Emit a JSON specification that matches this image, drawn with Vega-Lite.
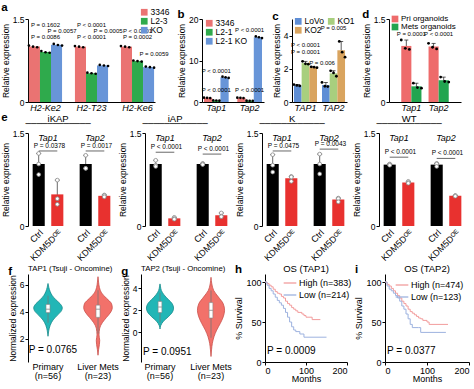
{
"$schema":"https://vega.github.io/schema/vega-lite/v6.json",
"background":"white",
"padding":{"left":1,"top":1,"right":1,"bottom":0},
"config":{
 "font":"Liberation Sans",
 "view":{"stroke":null},
 "axis":{"grid":false,"domainColor":"#000","tickColor":"#000","labelColor":"#000","titleColor":"#000","labelFontSize":8.5,"titleFontSize":8.5,"titleFontWeight":"normal","tickSize":3,"labelPadding":1,"titlePadding":2},
 "legend":{"labelFontSize":8.5,"labelColor":"#000","symbolType":"square","symbolSize":45,"symbolStrokeWidth":0,"rowPadding":0,"padding":0,"labelOffset":2,"titlePadding":0},
 "title":{"fontSize":12,"fontWeight":"bold","anchor":"start","color":"#000","subtitleColor":"#000","subtitleFontSize":9,"subtitleFont":"Liberation Sans","offset":1,"frame":"bounds"},
 "header":{"labelFontSize":9,"labelColor":"#000"}
},
"datasets":{
 "a":[
  {"gene":"H2-Ke2","grp":"3346","s":"1","v":1.02},{"gene":"H2-Ke2","grp":"3346","s":"2","v":1.0},{"gene":"H2-Ke2","grp":"3346","s":"3","v":0.99},
  {"gene":"H2-Ke2","grp":"L2-3","s":"4","v":0.92},{"gene":"H2-Ke2","grp":"L2-3","s":"5","v":0.9},{"gene":"H2-Ke2","grp":"L2-3","s":"6","v":0.89},
  {"gene":"H2-Ke2","grp":"KO","s":"7","v":1.05},{"gene":"H2-Ke2","grp":"KO","s":"8","v":1.03},{"gene":"H2-Ke2","grp":"KO","s":"9","v":1.02},
  {"gene":"H2-T23","grp":"3346","s":"1","v":1.01},{"gene":"H2-T23","grp":"3346","s":"2","v":1.0},{"gene":"H2-T23","grp":"3346","s":"3","v":0.99},
  {"gene":"H2-T23","grp":"L2-3","s":"4","v":0.53},{"gene":"H2-T23","grp":"L2-3","s":"5","v":0.52},{"gene":"H2-T23","grp":"L2-3","s":"6","v":0.51},
  {"gene":"H2-T23","grp":"KO","s":"7","v":0.67},{"gene":"H2-T23","grp":"KO","s":"8","v":0.66},{"gene":"H2-T23","grp":"KO","s":"9","v":0.65},
  {"gene":"H2-Ke6","grp":"3346","s":"1","v":1.01},{"gene":"H2-Ke6","grp":"3346","s":"2","v":1.0},{"gene":"H2-Ke6","grp":"3346","s":"3","v":0.99},
  {"gene":"H2-Ke6","grp":"L2-3","s":"4","v":0.75},{"gene":"H2-Ke6","grp":"L2-3","s":"5","v":0.74},{"gene":"H2-Ke6","grp":"L2-3","s":"6","v":0.73},
  {"gene":"H2-Ke6","grp":"KO","s":"7","v":0.64},{"gene":"H2-Ke6","grp":"KO","s":"8","v":0.63},{"gene":"H2-Ke6","grp":"KO","s":"9","v":0.62}
 ],
 "a_p":[
  {"gene":"H2-Ke2","grp":"L2-3","label":"P = 0.1602","v":1.33},
  {"gene":"H2-Ke2","grp":"KO","label":"P = 0.0057","v":1.23},
  {"gene":"H2-Ke2","grp":"L2-3","label":"P = 0.0086","v":1.12},
  {"gene":"H2-T23","grp":"L2-3","label":"P < 0.0001","v":1.33},
  {"gene":"H2-T23","grp":"KO","label":"P = 0.0005","v":1.23},
  {"gene":"H2-T23","grp":"L2-3","label":"P < 0.0001","v":1.12},
  {"gene":"H2-Ke6","grp":"L2-3","label":"P < 0.0001","v":1.23},
  {"gene":"H2-Ke6","grp":"L2-3","label":"P = 0.0002","v":1.12},
  {"gene":"H2-Ke6","grp":"KO","label":"P = 0.0059","v":0.82}
 ],
 "b":[
  {"gene":"Tap1","grp":"3346","s":"1","v":1.05},{"gene":"Tap1","grp":"3346","s":"2","v":1.0},{"gene":"Tap1","grp":"3346","s":"3","v":0.95},
  {"gene":"Tap1","grp":"L2-1","s":"4","v":0.38},{"gene":"Tap1","grp":"L2-1","s":"5","v":0.35},{"gene":"Tap1","grp":"L2-1","s":"6","v":0.33},
  {"gene":"Tap1","grp":"L2-1 KO","s":"7","v":6.1},{"gene":"Tap1","grp":"L2-1 KO","s":"8","v":5.95},{"gene":"Tap1","grp":"L2-1 KO","s":"9","v":5.8},
  {"gene":"Tap2","grp":"3346","s":"1","v":1.05},{"gene":"Tap2","grp":"3346","s":"2","v":1.0},{"gene":"Tap2","grp":"3346","s":"3","v":0.95},
  {"gene":"Tap2","grp":"L2-1","s":"4","v":0.33},{"gene":"Tap2","grp":"L2-1","s":"5","v":0.3},{"gene":"Tap2","grp":"L2-1","s":"6","v":0.28},
  {"gene":"Tap2","grp":"L2-1 KO","s":"7","v":15.8},{"gene":"Tap2","grp":"L2-1 KO","s":"8","v":15.6},{"gene":"Tap2","grp":"L2-1 KO","s":"9","v":15.4}
 ],
 "b_p":[
  {"gene":"Tap1","label":"P < 0.0001","v":2.1},
  {"gene":"Tap1","label":"P < 0.0001","v":6.8},
  {"gene":"Tap2","label":"P < 0.0001","v":2.1},
  {"gene":"Tap2","label":"P < 0.0001","v":16.6}
 ],
 "c":[
  {"gene":"TAP1","grp":"LoVo","s":"1","v":1.05},{"gene":"TAP1","grp":"LoVo","s":"2","v":1.0},{"gene":"TAP1","grp":"LoVo","s":"3","v":0.97},
  {"gene":"TAP1","grp":"KO1","s":"4","v":2.45},{"gene":"TAP1","grp":"KO1","s":"5","v":2.3},{"gene":"TAP1","grp":"KO1","s":"6","v":2.28},
  {"gene":"TAP1","grp":"KO2","s":"7","v":2.12},{"gene":"TAP1","grp":"KO2","s":"8","v":2.1},{"gene":"TAP1","grp":"KO2","s":"9","v":2.07},
  {"gene":"TAP2","grp":"LoVo","s":"1","v":1.18},{"gene":"TAP2","grp":"LoVo","s":"2","v":0.95},{"gene":"TAP2","grp":"LoVo","s":"3","v":0.93},
  {"gene":"TAP2","grp":"KO1","s":"4","v":1.88},{"gene":"TAP2","grp":"KO1","s":"5","v":1.75},{"gene":"TAP2","grp":"KO1","s":"6","v":1.55},
  {"gene":"TAP2","grp":"KO2","s":"7","v":3.65},{"gene":"TAP2","grp":"KO2","s":"8","v":3.0},{"gene":"TAP2","grp":"KO2","s":"9","v":2.7}
 ],
 "c_p":[
  {"gene":"TAP1","grp":"KO1","label":"P < 0.0001","v":3.25},
  {"gene":"TAP1","grp":"KO1","label":"P = 0.0001","v":2.85},
  {"gene":"TAP2","grp":"LoVo","label":"P = 0.006","v":2.15},
  {"gene":"TAP2","grp":"KO1","label":"P = 0.005","v":4.25}
 ],
 "d":[
  {"gene":"Tap1","grp":"Pri organoids","s":"1","v":1.12},{"gene":"Tap1","grp":"Pri organoids","s":"2","v":0.97},{"gene":"Tap1","grp":"Pri organoids","s":"3","v":0.95},
  {"gene":"Tap1","grp":"Mets organoids","s":"4","v":0.34},{"gene":"Tap1","grp":"Mets organoids","s":"5","v":0.26},{"gene":"Tap1","grp":"Mets organoids","s":"6","v":0.25},
  {"gene":"Tap2","grp":"Pri organoids","s":"1","v":1.06},{"gene":"Tap2","grp":"Pri organoids","s":"2","v":0.99},{"gene":"Tap2","grp":"Pri organoids","s":"3","v":0.96},
  {"gene":"Tap2","grp":"Mets organoids","s":"4","v":0.45},{"gene":"Tap2","grp":"Mets organoids","s":"5","v":0.37},{"gene":"Tap2","grp":"Mets organoids","s":"6","v":0.36}
 ],
 "d_p":[
  {"gene":"Tap1","label":"P = 0.0001","v":1.17},
  {"gene":"Tap2","label":"P < 0.0001","v":1.17}
 ],
 "e":[
  {"panel":"iKAP","gene":"Tap1","cond":"Ctrl","kind":"pt","v":1.17},{"panel":"iKAP","gene":"Tap1","cond":"Ctrl","kind":"pt","v":1.0},{"panel":"iKAP","gene":"Tap1","cond":"Ctrl","kind":"pt","v":0.83},
  {"panel":"iKAP","gene":"Tap1","cond":"KDM5D\u1d3c\u1d31","kind":"pt","v":0.74},{"panel":"iKAP","gene":"Tap1","cond":"KDM5D\u1d3c\u1d31","kind":"pt","v":0.44},{"panel":"iKAP","gene":"Tap1","cond":"KDM5D\u1d3c\u1d31","kind":"pt","v":0.35},
  {"panel":"iKAP","gene":"Tap2","cond":"Ctrl","kind":"pt","v":1.14},{"panel":"iKAP","gene":"Tap2","cond":"Ctrl","kind":"pt","v":0.93},{"panel":"iKAP","gene":"Tap2","cond":"Ctrl","kind":"pt","v":0.93},
  {"panel":"iKAP","gene":"Tap2","cond":"KDM5D\u1d3c\u1d31","kind":"pt","v":0.5},{"panel":"iKAP","gene":"Tap2","cond":"KDM5D\u1d3c\u1d31","kind":"pt","v":0.49},{"panel":"iKAP","gene":"Tap2","cond":"KDM5D\u1d3c\u1d31","kind":"pt","v":0.47},
  {"panel":"iAP","gene":"Tap1","cond":"Ctrl","kind":"pt","v":1.06},{"panel":"iAP","gene":"Tap1","cond":"Ctrl","kind":"pt","v":0.98},{"panel":"iAP","gene":"Tap1","cond":"Ctrl","kind":"pt","v":0.96},
  {"panel":"iAP","gene":"Tap1","cond":"KDM5D\u1d3c\u1d31","kind":"pt","v":0.14},{"panel":"iAP","gene":"Tap1","cond":"KDM5D\u1d3c\u1d31","kind":"pt","v":0.12},{"panel":"iAP","gene":"Tap1","cond":"KDM5D\u1d3c\u1d31","kind":"pt","v":0.11},
  {"panel":"iAP","gene":"Tap2","cond":"Ctrl","kind":"pt","v":1.01},{"panel":"iAP","gene":"Tap2","cond":"Ctrl","kind":"pt","v":1.0},{"panel":"iAP","gene":"Tap2","cond":"Ctrl","kind":"pt","v":0.99},
  {"panel":"iAP","gene":"Tap2","cond":"KDM5D\u1d3c\u1d31","kind":"pt","v":0.21},{"panel":"iAP","gene":"Tap2","cond":"KDM5D\u1d3c\u1d31","kind":"pt","v":0.16},{"panel":"iAP","gene":"Tap2","cond":"KDM5D\u1d3c\u1d31","kind":"pt","v":0.15},
  {"panel":"K","gene":"Tap1","cond":"Ctrl","kind":"pt","v":1.15},{"panel":"K","gene":"Tap1","cond":"Ctrl","kind":"pt","v":0.98},{"panel":"K","gene":"Tap1","cond":"Ctrl","kind":"pt","v":0.87},
  {"panel":"K","gene":"Tap1","cond":"KDM5D\u1d3c\u1d31","kind":"pt","v":0.8},{"panel":"K","gene":"Tap1","cond":"KDM5D\u1d3c\u1d31","kind":"pt","v":0.79},{"panel":"K","gene":"Tap1","cond":"KDM5D\u1d3c\u1d31","kind":"pt","v":0.72},
  {"panel":"K","gene":"Tap2","cond":"Ctrl","kind":"pt","v":1.16},{"panel":"K","gene":"Tap2","cond":"Ctrl","kind":"pt","v":1.0},{"panel":"K","gene":"Tap2","cond":"Ctrl","kind":"pt","v":0.84},
  {"panel":"K","gene":"Tap2","cond":"KDM5D\u1d3c\u1d31","kind":"pt","v":0.45},{"panel":"K","gene":"Tap2","cond":"KDM5D\u1d3c\u1d31","kind":"pt","v":0.44},{"panel":"K","gene":"Tap2","cond":"KDM5D\u1d3c\u1d31","kind":"pt","v":0.39},
  {"panel":"WT","gene":"Tap1","cond":"Ctrl","kind":"pt","v":1.0},{"panel":"WT","gene":"Tap1","cond":"Ctrl","kind":"pt","v":0.99},{"panel":"WT","gene":"Tap1","cond":"Ctrl","kind":"pt","v":0.98},
  {"panel":"WT","gene":"Tap1","cond":"KDM5D\u1d3c\u1d31","kind":"pt","v":0.72},{"panel":"WT","gene":"Tap1","cond":"KDM5D\u1d3c\u1d31","kind":"pt","v":0.7},{"panel":"WT","gene":"Tap1","cond":"KDM5D\u1d3c\u1d31","kind":"pt","v":0.69},
  {"panel":"WT","gene":"Tap2","cond":"Ctrl","kind":"pt","v":1.01},{"panel":"WT","gene":"Tap2","cond":"Ctrl","kind":"pt","v":1.0},{"panel":"WT","gene":"Tap2","cond":"Ctrl","kind":"pt","v":0.96},
  {"panel":"WT","gene":"Tap2","cond":"KDM5D\u1d3c\u1d31","kind":"pt","v":0.49},{"panel":"WT","gene":"Tap2","cond":"KDM5D\u1d3c\u1d31","kind":"pt","v":0.49},{"panel":"WT","gene":"Tap2","cond":"KDM5D\u1d3c\u1d31","kind":"pt","v":0.48},
  {"panel":"iKAP","gene":"Tap1","cond":"Ctrl","cond2":"KDM5D\u1d3c\u1d31","kind":"p","label":"P = 0.0378","v":1.25,"lv":1.21},
  {"panel":"iKAP","gene":"Tap2","cond":"Ctrl","cond2":"KDM5D\u1d3c\u1d31","kind":"p","label":"P = 0.0017","v":1.25,"lv":1.21},
  {"panel":"iAP","gene":"Tap1","cond":"Ctrl","cond2":"KDM5D\u1d3c\u1d31","kind":"p","label":"P < 0.0001","v":1.23,"lv":1.19},
  {"panel":"iAP","gene":"Tap2","cond":"Ctrl","cond2":"KDM5D\u1d3c\u1d31","kind":"p","label":"P < 0.0001","v":1.2,"lv":1.16},
  {"panel":"K","gene":"Tap1","cond":"Ctrl","cond2":"KDM5D\u1d3c\u1d31","kind":"p","label":"P = 0.0475","v":1.25,"lv":1.21},
  {"panel":"K","gene":"Tap2","cond":"Ctrl","cond2":"KDM5D\u1d3c\u1d31","kind":"p","label":"P = 0.0043","v":1.28,"lv":1.24},
  {"panel":"WT","gene":"Tap1","cond":"Ctrl","cond2":"KDM5D\u1d3c\u1d31","kind":"p","label":"P < 0.0001","v":1.15,"lv":1.11},
  {"panel":"WT","gene":"Tap2","cond":"Ctrl","cond2":"KDM5D\u1d3c\u1d31","kind":"p","label":"P < 0.0001","v":1.13,"lv":1.09}
 ],
 "f":[
  {"grp":"Primary|(n=56)","kind":"vio","v":2.2,"lo":0,"hi":0},{"grp":"Primary|(n=56)","kind":"vio","v":2.6,"lo":-0.05,"hi":0.05},{"grp":"Primary|(n=56)","kind":"vio","v":3.0,"lo":-0.15,"hi":0.15},{"grp":"Primary|(n=56)","kind":"vio","v":3.4,"lo":-0.35,"hi":0.35},{"grp":"Primary|(n=56)","kind":"vio","v":3.8,"lo":-0.7,"hi":0.7},{"grp":"Primary|(n=56)","kind":"vio","v":4.1,"lo":-0.95,"hi":0.95},{"grp":"Primary|(n=56)","kind":"vio","v":4.3,"lo":-1.0,"hi":1.0},{"grp":"Primary|(n=56)","kind":"vio","v":4.6,"lo":-0.85,"hi":0.85},{"grp":"Primary|(n=56)","kind":"vio","v":4.9,"lo":-0.55,"hi":0.55},{"grp":"Primary|(n=56)","kind":"vio","v":5.2,"lo":-0.3,"hi":0.3},{"grp":"Primary|(n=56)","kind":"vio","v":5.5,"lo":-0.15,"hi":0.15},{"grp":"Primary|(n=56)","kind":"vio","v":5.8,"lo":-0.06,"hi":0.06},{"grp":"Primary|(n=56)","kind":"vio","v":6.1,"lo":0,"hi":0},
  {"grp":"Liver Mets|(n=23)","kind":"vio","v":0.8,"lo":0,"hi":0},{"grp":"Liver Mets|(n=23)","kind":"vio","v":1.2,"lo":-0.04,"hi":0.04},{"grp":"Liver Mets|(n=23)","kind":"vio","v":1.6,"lo":-0.1,"hi":0.1},{"grp":"Liver Mets|(n=23)","kind":"vio","v":1.9,"lo":-0.12,"hi":0.12},{"grp":"Liver Mets|(n=23)","kind":"vio","v":2.3,"lo":-0.07,"hi":0.07},{"grp":"Liver Mets|(n=23)","kind":"vio","v":2.8,"lo":-0.12,"hi":0.12},{"grp":"Liver Mets|(n=23)","kind":"vio","v":3.2,"lo":-0.3,"hi":0.3},{"grp":"Liver Mets|(n=23)","kind":"vio","v":3.6,"lo":-0.6,"hi":0.6},{"grp":"Liver Mets|(n=23)","kind":"vio","v":4.0,"lo":-0.9,"hi":0.9},{"grp":"Liver Mets|(n=23)","kind":"vio","v":4.3,"lo":-1.0,"hi":1.0},{"grp":"Liver Mets|(n=23)","kind":"vio","v":4.6,"lo":-0.95,"hi":0.95},{"grp":"Liver Mets|(n=23)","kind":"vio","v":5.0,"lo":-0.6,"hi":0.6},{"grp":"Liver Mets|(n=23)","kind":"vio","v":5.4,"lo":-0.25,"hi":0.25},{"grp":"Liver Mets|(n=23)","kind":"vio","v":5.8,"lo":-0.1,"hi":0.1},{"grp":"Liver Mets|(n=23)","kind":"vio","v":6.2,"lo":-0.04,"hi":0.04},{"grp":"Liver Mets|(n=23)","kind":"vio","v":6.6,"lo":0,"hi":0},
  {"grp":"Primary|(n=56)","kind":"box","q1":3.95,"med":4.2,"q3":4.55,"wlo":3.2,"whi":5.2},
  {"grp":"Liver Mets|(n=23)","kind":"box","q1":3.6,"med":4.2,"q3":4.5,"wlo":2.4,"whi":5.6},
  {"grp":"Primary|(n=56)","kind":"p","label":"P = 0.0765","v":0.8}
 ],
 "g":[
  {"grp":"Primary|(n=56)","kind":"vio","v":0.3,"lo":0,"hi":0},{"grp":"Primary|(n=56)","kind":"vio","v":0.6,"lo":-0.05,"hi":0.05},{"grp":"Primary|(n=56)","kind":"vio","v":1.0,"lo":-0.25,"hi":0.25},{"grp":"Primary|(n=56)","kind":"vio","v":1.4,"lo":-0.6,"hi":0.6},{"grp":"Primary|(n=56)","kind":"vio","v":1.8,"lo":-0.9,"hi":0.9},{"grp":"Primary|(n=56)","kind":"vio","v":2.2,"lo":-1.0,"hi":1.0},{"grp":"Primary|(n=56)","kind":"vio","v":2.6,"lo":-0.9,"hi":0.9},{"grp":"Primary|(n=56)","kind":"vio","v":3.0,"lo":-0.6,"hi":0.6},{"grp":"Primary|(n=56)","kind":"vio","v":3.4,"lo":-0.3,"hi":0.3},{"grp":"Primary|(n=56)","kind":"vio","v":3.8,"lo":-0.1,"hi":0.1},{"grp":"Primary|(n=56)","kind":"vio","v":4.2,"lo":-0.03,"hi":0.03},{"grp":"Primary|(n=56)","kind":"vio","v":4.4,"lo":0,"hi":0},
  {"grp":"Liver Mets|(n=23)","kind":"vio","v":-2.2,"lo":0,"hi":0},{"grp":"Liver Mets|(n=23)","kind":"vio","v":-1.6,"lo":-0.04,"hi":0.04},{"grp":"Liver Mets|(n=23)","kind":"vio","v":-1.0,"lo":-0.1,"hi":0.1},{"grp":"Liver Mets|(n=23)","kind":"vio","v":-0.4,"lo":-0.22,"hi":0.22},{"grp":"Liver Mets|(n=23)","kind":"vio","v":0.2,"lo":-0.42,"hi":0.42},{"grp":"Liver Mets|(n=23)","kind":"vio","v":0.8,"lo":-0.68,"hi":0.68},{"grp":"Liver Mets|(n=23)","kind":"vio","v":1.4,"lo":-0.9,"hi":0.9},{"grp":"Liver Mets|(n=23)","kind":"vio","v":2.0,"lo":-1.0,"hi":1.0},{"grp":"Liver Mets|(n=23)","kind":"vio","v":2.6,"lo":-0.9,"hi":0.9},{"grp":"Liver Mets|(n=23)","kind":"vio","v":3.2,"lo":-0.55,"hi":0.55},{"grp":"Liver Mets|(n=23)","kind":"vio","v":3.8,"lo":-0.2,"hi":0.2},{"grp":"Liver Mets|(n=23)","kind":"vio","v":4.4,"lo":-0.06,"hi":0.06},{"grp":"Liver Mets|(n=23)","kind":"vio","v":5.0,"lo":0,"hi":0},
  {"grp":"Primary|(n=56)","kind":"box","q1":1.8,"med":2.3,"q3":2.8,"wlo":0.9,"whi":3.6},
  {"grp":"Liver Mets|(n=23)","kind":"box","q1":1.3,"med":2.0,"q3":2.7,"wlo":-0.5,"whi":3.8},
  {"grp":"Primary|(n=56)","kind":"p","label":"P = 0.0951","v":-2.2}
 ],
 "h":[
  {"grp":"High (n=383)","m":0,"s":100},{"grp":"High (n=383)","m":5,"s":98},{"grp":"High (n=383)","m":10,"s":96},{"grp":"High (n=383)","m":15,"s":94},{"grp":"High (n=383)","m":20,"s":91},{"grp":"High (n=383)","m":25,"s":88},{"grp":"High (n=383)","m":30,"s":86},{"grp":"High (n=383)","m":35,"s":85},{"grp":"High (n=383)","m":40,"s":82},{"grp":"High (n=383)","m":45,"s":80},{"grp":"High (n=383)","m":50,"s":76},{"grp":"High (n=383)","m":55,"s":73},{"grp":"High (n=383)","m":60,"s":71},{"grp":"High (n=383)","m":65,"s":68},{"grp":"High (n=383)","m":70,"s":66},{"grp":"High (n=383)","m":75,"s":64},{"grp":"High (n=383)","m":80,"s":62},{"grp":"High (n=383)","m":90,"s":60},{"grp":"High (n=383)","m":95,"s":58},{"grp":"High (n=383)","m":100,"s":56},{"grp":"High (n=383)","m":115,"s":53},{"grp":"High (n=383)","m":135,"s":53},
  {"grp":"Low (n=214)","m":0,"s":100},{"grp":"Low (n=214)","m":5,"s":96},{"grp":"Low (n=214)","m":10,"s":92},{"grp":"Low (n=214)","m":15,"s":89},{"grp":"Low (n=214)","m":20,"s":85},{"grp":"Low (n=214)","m":25,"s":81},{"grp":"Low (n=214)","m":30,"s":77},{"grp":"Low (n=214)","m":35,"s":74},{"grp":"Low (n=214)","m":40,"s":71},{"grp":"Low (n=214)","m":45,"s":67},{"grp":"Low (n=214)","m":50,"s":62},{"grp":"Low (n=214)","m":55,"s":56},{"grp":"Low (n=214)","m":60,"s":50},{"grp":"Low (n=214)","m":65,"s":44},{"grp":"Low (n=214)","m":70,"s":40},{"grp":"Low (n=214)","m":75,"s":38},{"grp":"Low (n=214)","m":85,"s":35},{"grp":"Low (n=214)","m":95,"s":31},{"grp":"Low (n=214)","m":150,"s":31}
 ],
 "h_p":[{"m":5,"s":8,"label":"P = 0.0009"}],
 "i":[
  {"grp":"High (n=474)","m":0,"s":100},{"grp":"High (n=474)","m":5,"s":97},{"grp":"High (n=474)","m":10,"s":95},{"grp":"High (n=474)","m":15,"s":92},{"grp":"High (n=474)","m":20,"s":89},{"grp":"High (n=474)","m":25,"s":86},{"grp":"High (n=474)","m":30,"s":83},{"grp":"High (n=474)","m":35,"s":80},{"grp":"High (n=474)","m":40,"s":76},{"grp":"High (n=474)","m":45,"s":73},{"grp":"High (n=474)","m":50,"s":70},{"grp":"High (n=474)","m":55,"s":66},{"grp":"High (n=474)","m":60,"s":63},{"grp":"High (n=474)","m":65,"s":61},{"grp":"High (n=474)","m":70,"s":59},{"grp":"High (n=474)","m":75,"s":57},{"grp":"High (n=474)","m":80,"s":55},{"grp":"High (n=474)","m":85,"s":54},{"grp":"High (n=474)","m":90,"s":52},{"grp":"High (n=474)","m":100,"s":50},{"grp":"High (n=474)","m":105,"s":47},{"grp":"High (n=474)","m":150,"s":47},
  {"grp":"Low (n=123)","m":0,"s":100},{"grp":"Low (n=123)","m":5,"s":95},{"grp":"Low (n=123)","m":10,"s":91},{"grp":"Low (n=123)","m":15,"s":89},{"grp":"Low (n=123)","m":20,"s":86},{"grp":"Low (n=123)","m":25,"s":83},{"grp":"Low (n=123)","m":30,"s":80},{"grp":"Low (n=123)","m":35,"s":76},{"grp":"Low (n=123)","m":40,"s":70},{"grp":"Low (n=123)","m":45,"s":66},{"grp":"Low (n=123)","m":50,"s":60},{"grp":"Low (n=123)","m":55,"s":54},{"grp":"Low (n=123)","m":60,"s":47},{"grp":"Low (n=123)","m":65,"s":43},{"grp":"Low (n=123)","m":80,"s":43},{"grp":"Low (n=123)","m":85,"s":37},{"grp":"Low (n=123)","m":145,"s":37}
 ],
 "i_p":[{"m":5,"s":8,"label":"P = 0.0377"}]
},
"spacing":0,
"resolve":{"scale":{"color":"independent","fill":"independent","stroke":"independent"},"legend":{"color":"independent","fill":"independent","stroke":"independent"}},
"vconcat":[
 {"hconcat":[
  {"width":127,"height":83,"title":{"text":"a","offset":-5,"fontSize":11.5},"data":{"name":"a"},
   "layer":[
    {"mark":{"type":"bar"},
     "encoding":{
      "x":{"field":"gene","type":"nominal","scale":{"domain":["H2-Ke2","H2-T23","H2-Ke6"],"paddingInner":0.28,"paddingOuter":0.02},"axis":{"title":null,"labelAngle":0,"labelFontStyle":"italic","labelFontSize":9,"ticks":false,"labelPadding":1}},
      "xOffset":{"field":"grp","type":"nominal","scale":{"domain":["3346","L2-3","KO"],"paddingInner":0,"paddingOuter":0}},
      "y":{"aggregate":"mean","field":"v","type":"quantitative","title":"Relative expression","scale":{"domain":[0,1.5],"nice":false},"axis":{"values":[0,0.5,1,1.5],"labelExpr":"datum.value == 0 ? '0' : format(datum.value, '.1f')"}},
      "color":{"field":"grp","type":"nominal","scale":{"domain":["3346","L2-3","KO"],"range":["#EA7372","#2FAA4C","#6895D8"]},"legend":{"title":null,"orient":"none","legendX":112,"legendY":-11}}
     }},
    {"mark":{"type":"point","filled":true,"color":"#000","size":7,"opacity":1},
     "encoding":{
      "x":{"field":"gene","type":"nominal","scale":{"domain":["H2-Ke2","H2-T23","H2-Ke6"],"paddingInner":0.28,"paddingOuter":0.02}},
      "xOffset":{"field":"s","type":"nominal","scale":{"domain":["1","2","3","4","5","6","7","8","9"],"paddingInner":0,"paddingOuter":0}},
      "y":{"field":"v","type":"quantitative","title":"Relative expression","scale":{"domain":[0,1.5],"nice":false}}
     }},
    {"data":{"name":"a_p"},"mark":{"type":"text","fontSize":6,"baseline":"bottom"},
     "encoding":{
      "x":{"field":"gene","type":"nominal","scale":{"domain":["H2-Ke2","H2-T23","H2-Ke6"],"paddingInner":0.28,"paddingOuter":0.02}},
      "xOffset":{"field":"grp","type":"nominal","scale":{"domain":["3346","L2-3","KO"],"paddingInner":0,"paddingOuter":0}},
      "y":{"field":"v","type":"quantitative","title":"Relative expression","scale":{"domain":[0,1.5],"nice":false}},
      "text":{"field":"label"}
     }}
   ],
   "resolve":{"scale":{"xOffset":"independent"}}
  },
  {"width":62,"height":83,"title":{"text":"b","offset":-5,"fontSize":11.5},"data":{"name":"b"},
   "layer":[
    {"mark":{"type":"bar"},
     "encoding":{
      "x":{"field":"gene","type":"nominal","scale":{"domain":["Tap1","Tap2"],"paddingInner":0.26,"paddingOuter":0.06},"axis":{"title":null,"labelAngle":0,"labelFontStyle":"italic","labelFontSize":9,"ticks":false,"labelPadding":1}},
      "xOffset":{"field":"grp","type":"nominal","scale":{"domain":["3346","L2-1","L2-1 KO"],"paddingInner":0,"paddingOuter":0}},
      "y":{"aggregate":"mean","field":"v","type":"quantitative","title":"Relative expression","scale":{"domain":[0,20],"nice":false},"axis":{"values":[0,5,10,15,20]}},
      "color":{"field":"grp","type":"nominal","scale":{"domain":["3346","L2-1","L2-1 KO"],"range":["#EA7372","#2FAA4C","#6895D8"]},"legend":{"title":null,"orient":"none","legendX":3,"legendY":0}}
     }},
    {"mark":{"type":"point","filled":true,"color":"#000","size":7,"opacity":1},
     "encoding":{
      "x":{"field":"gene","type":"nominal","scale":{"domain":["Tap1","Tap2"],"paddingInner":0.26,"paddingOuter":0.06}},
      "xOffset":{"field":"s","type":"nominal","scale":{"domain":["1","2","3","4","5","6","7","8","9"],"paddingInner":0,"paddingOuter":0}},
      "y":{"field":"v","type":"quantitative","title":"Relative expression","scale":{"domain":[0,20],"nice":false}}
     }},
    {"data":{"name":"b_p"},"mark":{"type":"text","fontSize":6,"baseline":"bottom"},
     "encoding":{
      "x":{"field":"gene","type":"nominal","scale":{"domain":["Tap1","Tap2"],"paddingInner":0.26,"paddingOuter":0.06}},
      "y":{"field":"v","type":"quantitative","title":"Relative expression","scale":{"domain":[0,20],"nice":false}},
      "text":{"field":"label"}
     }}
   ],
   "resolve":{"scale":{"xOffset":"independent"}}
  },
  {"width":55,"height":83,"title":{"text":"c","offset":-5,"fontSize":11.5},"data":{"name":"c"},
   "layer":[
    {"mark":{"type":"rule","color":"#333","strokeWidth":0.8},
     "encoding":{
      "x":{"field":"gene","type":"nominal","scale":{"domain":["TAP1","TAP2"],"paddingInner":0.18,"paddingOuter":0.07},"axis":{"title":null,"labelAngle":0,"labelFontStyle":"italic","labelFontSize":9,"ticks":false,"labelPadding":1}},
      "xOffset":{"field":"grp","type":"nominal","scale":{"domain":["LoVo","KO1","KO2"],"paddingInner":0,"paddingOuter":0}},
      "y":{"aggregate":"min","field":"v","type":"quantitative","title":"Relative expression","scale":{"domain":[0,5],"nice":false},"axis":{"values":[0,1,2,3,4,5]}},
      "y2":{"aggregate":"max","field":"v"}
     }},
    {"mark":{"type":"tick","color":"#333","size":4,"thickness":0.8},
     "encoding":{
      "x":{"field":"gene","type":"nominal","scale":{"domain":["TAP1","TAP2"],"paddingInner":0.18,"paddingOuter":0.07}},
      "xOffset":{"field":"grp","type":"nominal","scale":{"domain":["LoVo","KO1","KO2"],"paddingInner":0,"paddingOuter":0}},
      "y":{"aggregate":"max","field":"v","type":"quantitative","title":"Relative expression","scale":{"domain":[0,5],"nice":false}}
     }},
    {"mark":{"type":"bar"},
     "encoding":{
      "x":{"field":"gene","type":"nominal","scale":{"domain":["TAP1","TAP2"],"paddingInner":0.18,"paddingOuter":0.07}},
      "xOffset":{"field":"grp","type":"nominal","scale":{"domain":["LoVo","KO1","KO2"],"paddingInner":0,"paddingOuter":0}},
      "y":{"aggregate":"mean","field":"v","type":"quantitative","title":"Relative expression","scale":{"domain":[0,5],"nice":false}},
      "color":{"field":"grp","type":"nominal","scale":{"domain":["LoVo","KO2","KO1"],"range":["#5F8ED5","#D9A45F","#A8CF7E"]},"legend":{"title":null,"orient":"none","legendX":2,"legendY":-2,"columns":2,"columnPadding":3}}
     }},
    {"mark":{"type":"point","filled":true,"color":"#000","size":8,"opacity":1},
     "encoding":{
      "x":{"field":"gene","type":"nominal","scale":{"domain":["TAP1","TAP2"],"paddingInner":0.18,"paddingOuter":0.07}},
      "xOffset":{"field":"s","type":"nominal","scale":{"domain":["1","2","3","4","5","6","7","8","9"],"paddingInner":0,"paddingOuter":0}},
      "y":{"field":"v","type":"quantitative","title":"Relative expression","scale":{"domain":[0,5],"nice":false}}
     }},
    {"data":{"name":"c_p"},"mark":{"type":"text","fontSize":6,"baseline":"bottom"},
     "encoding":{
      "x":{"field":"gene","type":"nominal","scale":{"domain":["TAP1","TAP2"],"paddingInner":0.18,"paddingOuter":0.07}},
      "xOffset":{"field":"grp","type":"nominal","scale":{"domain":["LoVo","KO1","KO2"],"paddingInner":0,"paddingOuter":0}},
      "y":{"field":"v","type":"quantitative","title":"Relative expression","scale":{"domain":[0,5],"nice":false}},
      "text":{"field":"label"}
     }}
   ],
   "resolve":{"scale":{"xOffset":"independent"}}
  },
  {"width":72,"height":83,"title":{"text":"d","offset":-5,"fontSize":11.5},"data":{"name":"d"},
   "layer":[
    {"mark":{"type":"rule","color":"#333","strokeWidth":0.8},
     "encoding":{
      "x":{"field":"gene","type":"nominal","scale":{"domain":["Tap1","Tap2"],"paddingInner":0.26,"paddingOuter":0.45},"axis":{"title":null,"labelAngle":0,"labelFontStyle":"italic","labelFontSize":9,"ticks":false,"labelPadding":1}},
      "xOffset":{"field":"grp","type":"nominal","scale":{"domain":["Pri organoids","Mets organoids"],"paddingInner":0,"paddingOuter":0}},
      "y":{"aggregate":"min","field":"v","type":"quantitative","title":"Relative expression","scale":{"domain":[0,1.5],"nice":false},"axis":{"values":[0,0.5,1,1.5],"labelExpr":"datum.value == 0 ? '0' : format(datum.value, '.1f')"}},
      "y2":{"aggregate":"max","field":"v"}
     }},
    {"mark":{"type":"tick","color":"#333","size":4,"thickness":0.8},
     "encoding":{
      "x":{"field":"gene","type":"nominal","scale":{"domain":["Tap1","Tap2"],"paddingInner":0.26,"paddingOuter":0.45}},
      "xOffset":{"field":"grp","type":"nominal","scale":{"domain":["Pri organoids","Mets organoids"],"paddingInner":0,"paddingOuter":0}},
      "y":{"aggregate":"max","field":"v","type":"quantitative","title":"Relative expression","scale":{"domain":[0,1.5],"nice":false}}
     }},
    {"mark":{"type":"bar"},
     "encoding":{
      "x":{"field":"gene","type":"nominal","scale":{"domain":["Tap1","Tap2"],"paddingInner":0.26,"paddingOuter":0.45}},
      "xOffset":{"field":"grp","type":"nominal","scale":{"domain":["Pri organoids","Mets organoids"],"paddingInner":0,"paddingOuter":0}},
      "y":{"aggregate":"mean","field":"v","type":"quantitative","title":"Relative expression","scale":{"domain":[0,1.5],"nice":false}},
      "color":{"field":"grp","type":"nominal","scale":{"domain":["Pri organoids","Mets organoids"],"range":["#EE6B6B","#22A550"]},"legend":{"title":null,"orient":"none","legendX":2,"legendY":-4,"labelFontSize":8}}
     }},
    {"mark":{"type":"point","filled":true,"color":"#000","size":8,"opacity":1},
     "encoding":{
      "x":{"field":"gene","type":"nominal","scale":{"domain":["Tap1","Tap2"],"paddingInner":0.26,"paddingOuter":0.45}},
      "xOffset":{"field":"s","type":"nominal","scale":{"domain":["1","2","3","4","5","6"],"paddingInner":0,"paddingOuter":0}},
      "y":{"field":"v","type":"quantitative","title":"Relative expression","scale":{"domain":[0,1.5],"nice":false}}
     }},
    {"data":{"name":"d_p"},"mark":{"type":"text","fontSize":6,"baseline":"bottom"},
     "encoding":{
      "x":{"field":"gene","type":"nominal","scale":{"domain":["Tap1","Tap2"],"paddingInner":0.26,"paddingOuter":0.45}},
      "y":{"field":"v","type":"quantitative","title":"Relative expression","scale":{"domain":[0,1.5],"nice":false}},
      "text":{"field":"label"}
     }}
   ],
   "resolve":{"scale":{"xOffset":"independent"}}
  }
 ],"spacing":7,"resolve":{"scale":{"color":"independent"},"legend":{"color":"independent"}}},
 {"title":{"text":"e","offset":-10,"fontSize":11.5},
  "resolve":{"scale":{"color":"independent"},"legend":{"color":"independent"}},
  "hconcat":[
   {"data":{"name":"e"},"transform":[{"filter":"datum.panel == 'iKAP'"}],
    "title":{"text":"iKAP","subtitle":"────────────","anchor":"middle","fontSize":9.5,"fontWeight":"normal","subtitleFont":"DejaVu Sans","subtitleFontSize":9,"subtitlePadding":-3,"offset":0},
    "facet":{"column":{"field":"gene","type":"nominal","title":null,"header":{"labelFontStyle":"italic","labelFontSize":9,"labelPadding":-10}}},
    "spacing":7,
    "spec":{"width":40,"height":93,
     "encoding":{"x":{"field":"cond","type":"nominal","scale":{"domain":["Ctrl","KDM5D\u1d3c\u1d31"],"paddingInner":0.35,"paddingOuter":0.25},"axis":{"title":null,"labelAngle":-45,"domain":false,"ticks":false,"labelFontSize":9,"labelPadding":2}}},
     "layer":[
      {"transform":[{"filter":"datum.kind == 'pt'"}],"mark":{"type":"rule","color":"#444","strokeWidth":0.8},"encoding":{"y":{"aggregate":"min","field":"v","type":"quantitative","title":"Relative expression","scale":{"domain":[0,1.5],"nice":false},"axis":{"values":[0,0.5,1,1.5],"labelExpr":"datum.value == 0 ? '0' : format(datum.value, '.1f')"}},"y2":{"aggregate":"max","field":"v"}}},
      {"transform":[{"filter":"datum.kind == 'pt'"}],"mark":{"type":"tick","color":"#444","size":5,"thickness":0.8},"encoding":{"y":{"aggregate":"max","field":"v","type":"quantitative","title":"Relative expression","scale":{"domain":[0,1.5],"nice":false}}}},
      {"transform":[{"filter":"datum.kind == 'pt'"}],"mark":{"type":"bar"},"encoding":{"y":{"aggregate":"mean","field":"v","type":"quantitative","title":"Relative expression","scale":{"domain":[0,1.5],"nice":false}},"color":{"field":"cond","type":"nominal","scale":{"domain":["Ctrl","KDM5D\u1d3c\u1d31"],"range":["#000000","#E8312F"]},"legend":null}}},
      {"transform":[{"filter":"datum.kind == 'pt'"}],"mark":{"type":"point","filled":true,"fill":"#fff","stroke":"#888","strokeWidth":0.8,"size":14,"opacity":1},"encoding":{"y":{"field":"v","type":"quantitative","title":"Relative expression","scale":{"domain":[0,1.5],"nice":false}}}},
      {"transform":[{"filter":"datum.kind == 'p'"}],"mark":{"type":"rule","color":"#000","strokeWidth":0.6},"encoding":{"x2":{"field":"cond2"},"y":{"field":"lv","type":"quantitative","title":"Relative expression","scale":{"domain":[0,1.5],"nice":false}}}},
      {"transform":[{"filter":"datum.kind == 'p'"}],"mark":{"type":"text","fontSize":6.5,"align":"left","dx":-5,"baseline":"bottom"},"encoding":{"y":{"field":"v","type":"quantitative","title":"Relative expression","scale":{"domain":[0,1.5],"nice":false}},"text":{"field":"label"}}}
     ]}
   },
   {"data":{"name":"e"},"transform":[{"filter":"datum.panel == 'iAP'"}],
    "title":{"text":"iAP","subtitle":"────────────","anchor":"middle","fontSize":9.5,"fontWeight":"normal","subtitleFont":"DejaVu Sans","subtitleFontSize":9,"subtitlePadding":-3,"offset":0},
    "facet":{"column":{"field":"gene","type":"nominal","title":null,"header":{"labelFontStyle":"italic","labelFontSize":9,"labelPadding":-10}}},
    "spacing":7,
    "spec":{"width":40,"height":93,
     "encoding":{"x":{"field":"cond","type":"nominal","scale":{"domain":["Ctrl","KDM5D\u1d3c\u1d31"],"paddingInner":0.35,"paddingOuter":0.25},"axis":{"title":null,"labelAngle":-45,"domain":false,"ticks":false,"labelFontSize":9,"labelPadding":2}}},
     "layer":[
      {"transform":[{"filter":"datum.kind == 'pt'"}],"mark":{"type":"rule","color":"#444","strokeWidth":0.8},"encoding":{"y":{"aggregate":"min","field":"v","type":"quantitative","title":"Relative expression","scale":{"domain":[0,1.5],"nice":false},"axis":{"values":[0,0.5,1,1.5],"labelExpr":"datum.value == 0 ? '0' : format(datum.value, '.1f')"}},"y2":{"aggregate":"max","field":"v"}}},
      {"transform":[{"filter":"datum.kind == 'pt'"}],"mark":{"type":"tick","color":"#444","size":5,"thickness":0.8},"encoding":{"y":{"aggregate":"max","field":"v","type":"quantitative","title":"Relative expression","scale":{"domain":[0,1.5],"nice":false}}}},
      {"transform":[{"filter":"datum.kind == 'pt'"}],"mark":{"type":"bar"},"encoding":{"y":{"aggregate":"mean","field":"v","type":"quantitative","title":"Relative expression","scale":{"domain":[0,1.5],"nice":false}},"color":{"field":"cond","type":"nominal","scale":{"domain":["Ctrl","KDM5D\u1d3c\u1d31"],"range":["#000000","#E8312F"]},"legend":null}}},
      {"transform":[{"filter":"datum.kind == 'pt'"}],"mark":{"type":"point","filled":true,"fill":"#fff","stroke":"#888","strokeWidth":0.8,"size":14,"opacity":1},"encoding":{"y":{"field":"v","type":"quantitative","title":"Relative expression","scale":{"domain":[0,1.5],"nice":false}}}},
      {"transform":[{"filter":"datum.kind == 'p'"}],"mark":{"type":"rule","color":"#000","strokeWidth":0.6},"encoding":{"x2":{"field":"cond2"},"y":{"field":"lv","type":"quantitative","title":"Relative expression","scale":{"domain":[0,1.5],"nice":false}}}},
      {"transform":[{"filter":"datum.kind == 'p'"}],"mark":{"type":"text","fontSize":6.5,"align":"left","dx":-5,"baseline":"bottom"},"encoding":{"y":{"field":"v","type":"quantitative","title":"Relative expression","scale":{"domain":[0,1.5],"nice":false}},"text":{"field":"label"}}}
     ]}
   },
   {"data":{"name":"e"},"transform":[{"filter":"datum.panel == 'K'"}],
    "title":{"text":"K","subtitle":"────────────","anchor":"middle","fontSize":9.5,"fontWeight":"normal","subtitleFont":"DejaVu Sans","subtitleFontSize":9,"subtitlePadding":-3,"offset":0},
    "facet":{"column":{"field":"gene","type":"nominal","title":null,"header":{"labelFontStyle":"italic","labelFontSize":9,"labelPadding":-10}}},
    "spacing":7,
    "spec":{"width":40,"height":93,
     "encoding":{"x":{"field":"cond","type":"nominal","scale":{"domain":["Ctrl","KDM5D\u1d3c\u1d31"],"paddingInner":0.35,"paddingOuter":0.25},"axis":{"title":null,"labelAngle":-45,"domain":false,"ticks":false,"labelFontSize":9,"labelPadding":2}}},
     "layer":[
      {"transform":[{"filter":"datum.kind == 'pt'"}],"mark":{"type":"rule","color":"#444","strokeWidth":0.8},"encoding":{"y":{"aggregate":"min","field":"v","type":"quantitative","title":"Relative expression","scale":{"domain":[0,1.5],"nice":false},"axis":{"values":[0,0.5,1,1.5],"labelExpr":"datum.value == 0 ? '0' : format(datum.value, '.1f')"}},"y2":{"aggregate":"max","field":"v"}}},
      {"transform":[{"filter":"datum.kind == 'pt'"}],"mark":{"type":"tick","color":"#444","size":5,"thickness":0.8},"encoding":{"y":{"aggregate":"max","field":"v","type":"quantitative","title":"Relative expression","scale":{"domain":[0,1.5],"nice":false}}}},
      {"transform":[{"filter":"datum.kind == 'pt'"}],"mark":{"type":"bar"},"encoding":{"y":{"aggregate":"mean","field":"v","type":"quantitative","title":"Relative expression","scale":{"domain":[0,1.5],"nice":false}},"color":{"field":"cond","type":"nominal","scale":{"domain":["Ctrl","KDM5D\u1d3c\u1d31"],"range":["#000000","#E8312F"]},"legend":null}}},
      {"transform":[{"filter":"datum.kind == 'pt'"}],"mark":{"type":"point","filled":true,"fill":"#fff","stroke":"#888","strokeWidth":0.8,"size":14,"opacity":1},"encoding":{"y":{"field":"v","type":"quantitative","title":"Relative expression","scale":{"domain":[0,1.5],"nice":false}}}},
      {"transform":[{"filter":"datum.kind == 'p'"}],"mark":{"type":"rule","color":"#000","strokeWidth":0.6},"encoding":{"x2":{"field":"cond2"},"y":{"field":"lv","type":"quantitative","title":"Relative expression","scale":{"domain":[0,1.5],"nice":false}}}},
      {"transform":[{"filter":"datum.kind == 'p'"}],"mark":{"type":"text","fontSize":6.5,"align":"left","dx":-5,"baseline":"bottom"},"encoding":{"y":{"field":"v","type":"quantitative","title":"Relative expression","scale":{"domain":[0,1.5],"nice":false}},"text":{"field":"label"}}}
     ]}
   },
   {"data":{"name":"e"},"transform":[{"filter":"datum.panel == 'WT'"}],
    "title":{"text":"WT","subtitle":"────────────","anchor":"middle","fontSize":9.5,"fontWeight":"normal","subtitleFont":"DejaVu Sans","subtitleFontSize":9,"subtitlePadding":-3,"offset":0},
    "facet":{"column":{"field":"gene","type":"nominal","title":null,"header":{"labelFontStyle":"italic","labelFontSize":9,"labelPadding":-10}}},
    "spacing":7,
    "spec":{"width":40,"height":93,
     "encoding":{"x":{"field":"cond","type":"nominal","scale":{"domain":["Ctrl","KDM5D\u1d3c\u1d31"],"paddingInner":0.35,"paddingOuter":0.25},"axis":{"title":null,"labelAngle":-45,"domain":false,"ticks":false,"labelFontSize":9,"labelPadding":2}}},
     "layer":[
      {"transform":[{"filter":"datum.kind == 'pt'"}],"mark":{"type":"rule","color":"#444","strokeWidth":0.8},"encoding":{"y":{"aggregate":"min","field":"v","type":"quantitative","title":"Relative expression","scale":{"domain":[0,1.5],"nice":false},"axis":{"values":[0,0.5,1,1.5],"labelExpr":"datum.value == 0 ? '0' : format(datum.value, '.1f')"}},"y2":{"aggregate":"max","field":"v"}}},
      {"transform":[{"filter":"datum.kind == 'pt'"}],"mark":{"type":"tick","color":"#444","size":5,"thickness":0.8},"encoding":{"y":{"aggregate":"max","field":"v","type":"quantitative","title":"Relative expression","scale":{"domain":[0,1.5],"nice":false}}}},
      {"transform":[{"filter":"datum.kind == 'pt'"}],"mark":{"type":"bar"},"encoding":{"y":{"aggregate":"mean","field":"v","type":"quantitative","title":"Relative expression","scale":{"domain":[0,1.5],"nice":false}},"color":{"field":"cond","type":"nominal","scale":{"domain":["Ctrl","KDM5D\u1d3c\u1d31"],"range":["#000000","#E8312F"]},"legend":null}}},
      {"transform":[{"filter":"datum.kind == 'pt'"}],"mark":{"type":"point","filled":true,"fill":"#fff","stroke":"#888","strokeWidth":0.8,"size":14,"opacity":1},"encoding":{"y":{"field":"v","type":"quantitative","title":"Relative expression","scale":{"domain":[0,1.5],"nice":false}}}},
      {"transform":[{"filter":"datum.kind == 'p'"}],"mark":{"type":"rule","color":"#000","strokeWidth":0.6},"encoding":{"x2":{"field":"cond2"},"y":{"field":"lv","type":"quantitative","title":"Relative expression","scale":{"domain":[0,1.5],"nice":false}}}},
      {"transform":[{"filter":"datum.kind == 'p'"}],"mark":{"type":"text","fontSize":6.5,"align":"left","dx":-5,"baseline":"bottom"},"encoding":{"y":{"field":"v","type":"quantitative","title":"Relative expression","scale":{"domain":[0,1.5],"nice":false}},"text":{"field":"label"}}}
     ]}
   }
  ],"spacing":3},
 {"resolve":{"scale":{"color":"independent","fill":"independent","stroke":"independent"},"legend":{"color":"independent","fill":"independent","stroke":"independent"}},
  "hconcat":[
  {"title":{"text":"f","offset":-12,"fontSize":11.5},
   "hconcat":[
    {"data":{"name":"f"},
     "title":{"text":"TAP1 (Tsuji - Oncomine)","fontWeight":"normal","fontSize":7.8,"anchor":"start","frame":"group","offset":1},
     "facet":{"column":{"field":"grp","type":"nominal","sort":["Primary|(n=56)","Liver Mets|(n=23)"],"title":null,"header":{"labelOrient":"bottom","labelExpr":"split(datum.value, '|')","labelFontSize":9,"labelPadding":1,"labelLineHeight":9}}},
     "spacing":0,
     "spec":{"width":40,"height":88,
      "layer":[
       {"transform":[{"filter":"datum.kind == 'vio'"}],"mark":{"type":"area","orient":"horizontal","interpolate":"monotone","strokeWidth":0.8},
        "encoding":{"y":{"field":"v","type":"quantitative","title":"Normalized expression","scale":{"domain":[0.3,6.8],"nice":false},"axis":{"values":[2,4,6]}},
         "x":{"field":"lo","type":"quantitative","scale":{"domain":[-1.4,1.4]},"axis":null},"x2":{"field":"hi"},
         "fill":{"field":"grp","type":"nominal","scale":{"domain":["Primary|(n=56)","Liver Mets|(n=23)"],"range":["#22B6B6","#F2716A"]},"legend":null},
         "stroke":{"field":"grp","type":"nominal","scale":{"domain":["Primary|(n=56)","Liver Mets|(n=23)"],"range":["#168A8A","#C9514B"]},"legend":null}}},
       {"transform":[{"filter":"datum.kind == 'box'"}],"mark":{"type":"rule","color":"#777","strokeWidth":0.8},
        "encoding":{"x":{"datum":0},"y":{"field":"wlo","type":"quantitative","title":"Normalized expression","scale":{"domain":[0.3,6.8],"nice":false}},"y2":{"field":"whi"}}},
       {"transform":[{"filter":"datum.kind == 'box'"}],"mark":{"type":"rect","fill":"#fff","stroke":"#888","strokeWidth":0.6},
        "encoding":{"x":{"datum":-0.14},"x2":{"datum":0.14},"y":{"field":"q1","type":"quantitative","title":"Normalized expression","scale":{"domain":[0.3,6.8],"nice":false}},"y2":{"field":"q3"}}},
       {"transform":[{"filter":"datum.kind == 'box'"}],"mark":{"type":"rule","color":"#888","strokeWidth":0.8},
        "encoding":{"x":{"datum":-0.14},"x2":{"datum":0.14},"y":{"field":"med","type":"quantitative","title":"Normalized expression","scale":{"domain":[0.3,6.8],"nice":false}}}},
       {"transform":[{"filter":"datum.kind == 'p'"}],"mark":{"type":"text","align":"left","baseline":"bottom","fontSize":10},
        "encoding":{"x":{"datum":-1.35},"y":{"field":"v","type":"quantitative","title":"Normalized expression","scale":{"domain":[0.3,6.8],"nice":false}},"text":{"field":"label"}}}
      ]}
    }
   ]},
  {"title":{"text":"g","offset":-12,"fontSize":11.5},
   "hconcat":[
    {"data":{"name":"g"},
     "title":{"text":"TAP2 (Tsuji - Oncomine)","fontWeight":"normal","fontSize":7.8,"anchor":"start","frame":"group","offset":1},
     "facet":{"column":{"field":"grp","type":"nominal","sort":["Primary|(n=56)","Liver Mets|(n=23)"],"title":null,"header":{"labelOrient":"bottom","labelExpr":"split(datum.value, '|')","labelFontSize":9,"labelPadding":1,"labelLineHeight":9}}},
     "spacing":0,
     "spec":{"width":38,"height":88,
      "layer":[
       {"transform":[{"filter":"datum.kind == 'vio'"}],"mark":{"type":"area","orient":"horizontal","interpolate":"monotone","strokeWidth":0.8},
        "encoding":{"y":{"field":"v","type":"quantitative","title":"Normalized expression","scale":{"domain":[-2.7,5.3],"nice":false},"axis":{"values":[0,2,4]}},
         "x":{"field":"lo","type":"quantitative","scale":{"domain":[-1.3,1.3]},"axis":null},"x2":{"field":"hi"},
         "fill":{"field":"grp","type":"nominal","scale":{"domain":["Primary|(n=56)","Liver Mets|(n=23)"],"range":["#22B6B6","#F2716A"]},"legend":null},
         "stroke":{"field":"grp","type":"nominal","scale":{"domain":["Primary|(n=56)","Liver Mets|(n=23)"],"range":["#168A8A","#C9514B"]},"legend":null}}},
       {"transform":[{"filter":"datum.kind == 'box'"}],"mark":{"type":"rule","color":"#777","strokeWidth":0.8},
        "encoding":{"x":{"datum":0},"y":{"field":"wlo","type":"quantitative","title":"Normalized expression","scale":{"domain":[-2.7,5.3],"nice":false}},"y2":{"field":"whi"}}},
       {"transform":[{"filter":"datum.kind == 'box'"}],"mark":{"type":"rect","fill":"#fff","stroke":"#888","strokeWidth":0.6},
        "encoding":{"x":{"datum":-0.14},"x2":{"datum":0.14},"y":{"field":"q1","type":"quantitative","title":"Normalized expression","scale":{"domain":[-2.7,5.3],"nice":false}},"y2":{"field":"q3"}}},
       {"transform":[{"filter":"datum.kind == 'box'"}],"mark":{"type":"rule","color":"#888","strokeWidth":0.8},
        "encoding":{"x":{"datum":-0.14},"x2":{"datum":0.14},"y":{"field":"med","type":"quantitative","title":"Normalized expression","scale":{"domain":[-2.7,5.3],"nice":false}}}},
       {"transform":[{"filter":"datum.kind == 'p'"}],"mark":{"type":"text","align":"left","baseline":"bottom","fontSize":10},
        "encoding":{"x":{"datum":-1.25},"y":{"field":"v","type":"quantitative","title":"Normalized expression","scale":{"domain":[-2.7,5.3],"nice":false}},"text":{"field":"label"}}}
      ]}
    }
   ]},
  {"title":{"text":"h","offset":-12,"fontSize":11.5},
   "hconcat":[
    {"width":82,"height":88,"data":{"name":"h"},
     "title":{"text":"OS (TAP1)","fontWeight":"normal","fontSize":9.5,"anchor":"middle","frame":"group","offset":1},
     "layer":[
      {"mark":{"type":"line","interpolate":"step-after","strokeWidth":1},
       "encoding":{
        "x":{"field":"m","type":"quantitative","title":"Months","scale":{"domain":[0,200],"nice":false},"axis":{"values":[0,50,100,150,200],"labelFontSize":9,"titleFontSize":9,"titlePadding":-1}},
        "y":{"field":"s","type":"quantitative","title":"% Survival","scale":{"domain":[0,110],"nice":false},"axis":{"values":[0,50,100],"labelFontSize":9,"titleFontSize":9}},
        "color":{"field":"grp","type":"nominal","scale":{"domain":["High (n=383)","Low (n=214)"],"range":["#F29C9C","#9DB2DF"]},"legend":{"title":null,"orient":"none","legendX":18,"legendY":2,"symbolType":"stroke","symbolSize":160,"symbolStrokeWidth":1.3,"labelFontSize":9}}
       }},
      {"data":{"name":"h_p"},"mark":{"type":"text","align":"left","baseline":"bottom","fontSize":10},
       "encoding":{"x":{"field":"m","type":"quantitative","title":"Months","scale":{"domain":[0,200],"nice":false}},"y":{"field":"s","type":"quantitative","title":"% Survival","scale":{"domain":[0,110],"nice":false}},"text":{"field":"label"}}}
     ]
    }
   ]},
  {"title":{"text":"i","offset":-12,"fontSize":11.5},
   "hconcat":[
    {"width":84,"height":88,"data":{"name":"i"},
     "title":{"text":"OS (TAP2)","fontWeight":"normal","fontSize":9.5,"anchor":"middle","frame":"group","offset":1},
     "layer":[
      {"mark":{"type":"line","interpolate":"step-after","strokeWidth":1},
       "encoding":{
        "x":{"field":"m","type":"quantitative","title":"Months","scale":{"domain":[0,200],"nice":false},"axis":{"values":[0,50,100,150,200],"labelFontSize":9,"titleFontSize":9,"titlePadding":-1}},
        "y":{"field":"s","type":"quantitative","title":"% Survival","scale":{"domain":[0,110],"nice":false},"axis":{"values":[0,50,100],"labelFontSize":9,"titleFontSize":9}},
        "color":{"field":"grp","type":"nominal","scale":{"domain":["High (n=474)","Low (n=123)"],"range":["#F29C9C","#9DB2DF"]},"legend":{"title":null,"orient":"none","legendX":10,"legendY":4,"symbolType":"stroke","symbolSize":160,"symbolStrokeWidth":1.3,"labelFontSize":9}}
       }},
      {"data":{"name":"i_p"},"mark":{"type":"text","align":"left","baseline":"bottom","fontSize":10},
       "encoding":{"x":{"field":"m","type":"quantitative","title":"Months","scale":{"domain":[0,200],"nice":false}},"y":{"field":"s","type":"quantitative","title":"% Survival","scale":{"domain":[0,110],"nice":false}},"text":{"field":"label"}}}
     ]
    }
   ]}
 ],"spacing":2}
]
}
